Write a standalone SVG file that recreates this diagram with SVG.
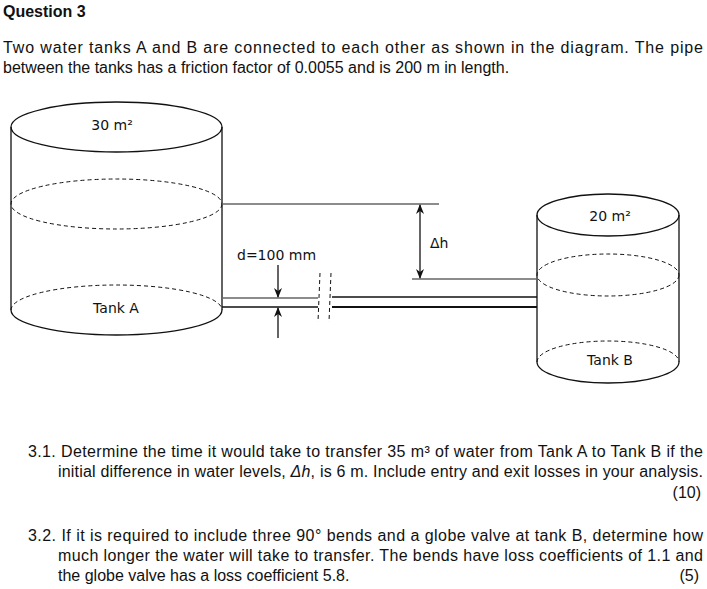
<svg xmlns="http://www.w3.org/2000/svg" width="707" height="589" viewBox="0 0 707 589">
<style>
.t{font-family:"Liberation Sans",Arial,sans-serif;font-size:16px;fill:#111}
.d{font-family:"DejaVu Sans",sans-serif;font-size:14px;fill:#111}
.s{fill:none;stroke:#111;stroke-width:1.3}
.ds{fill:none;stroke:#111;stroke-width:1;stroke-dasharray:4 3}
.g{stroke:#666;stroke-width:1.3;fill:none}
</style>
<defs><marker id="a" markerWidth="10" markerHeight="10" refX="9" refY="5" orient="auto" markerUnits="userSpaceOnUse"><path d="M0,1 L10,5 L0,9 L3,5z" fill="#111"/></marker></defs>
<rect width="707" height="589" fill="#fff"/>
<text class="t" x="3" y="17" font-weight="bold">Question 3</text>
<text class="t" x="3" y="53" textLength="700" lengthAdjust="spacing">Two water tanks A and B are connected to each other as shown in the diagram. The pipe</text>
<text class="t" x="3" y="73">between the tanks has a friction factor of 0.0055 and is 200 m in length.</text>
<g id="tankA">
<ellipse class="s" cx="116.5" cy="127" rx="105.5" ry="25"/>
<path class="s" d="M11,127 V310 A105.5,25 0 0 0 222,310 V127"/>
<ellipse class="ds" cx="116.5" cy="204" rx="105.5" ry="25"/>
<path class="ds" d="M11,310 A105.5,25 0 0 1 222,310"/>
<text class="d" x="112" y="130" text-anchor="middle">30 m²</text>
<text class="d" x="116" y="313" text-anchor="middle">Tank A</text>
</g>
<g id="tankB">
<ellipse class="s" cx="608" cy="215" rx="71" ry="21"/>
<path class="s" d="M537,215 V362 A71,21 0 0 0 679,362 V215"/>
<ellipse class="ds" cx="608" cy="275" rx="71" ry="21"/>
<path class="ds" d="M537,362 A71,21 0 0 1 679,362"/>
<text class="d" x="610" y="221" text-anchor="middle">20 m²</text>
<text class="d" x="610" y="365" text-anchor="middle">Tank B</text>
</g>
<g id="connectors">
<line class="g" x1="222" y1="204" x2="439" y2="204"/>
<line class="g" x1="412" y1="279" x2="537" y2="279"/>
<line class="s" x1="420" y1="240" x2="420" y2="205" marker-end="url(#a)"/>
<line class="s" x1="420" y1="240" x2="420" y2="278" marker-end="url(#a)"/>
<line class="g" x1="222" y1="298" x2="318" y2="298"/>
<line class="s" x1="222" y1="307" x2="318" y2="307"/>
<line class="s" x1="332" y1="297" x2="537" y2="297"/>
<line x1="332" y1="307" x2="537" y2="307" stroke="#111" stroke-width="2"/>
<line class="ds" x1="320" y1="273" x2="318" y2="322"/>
<line class="ds" x1="331" y1="273" x2="329" y2="322"/>
<line class="s" x1="278" y1="265" x2="278" y2="297" marker-end="url(#a)"/>
<line class="s" x1="278" y1="338" x2="278" y2="308" marker-end="url(#a)"/>
</g>
<text class="d" x="430" y="248">Δh</text>
<text class="d" x="237" y="260">d=100 mm</text>
<text class="t" x="28" y="457" textLength="675" lengthAdjust="spacing">3.1. Determine the time it would take to transfer 35 m³ of water from Tank A to Tank B if the</text>
<text class="t" x="58" y="477" textLength="645" lengthAdjust="spacing">initial difference in water levels, <tspan font-style="italic">Δh</tspan>, is 6 m. Include entry and exit losses in your analysis.</text>
<text class="t" x="701" y="498" text-anchor="end">(10)</text>
<text class="t" x="28" y="541" textLength="675" lengthAdjust="spacing">3.2. If it is required to include three 90° bends and a globe valve at tank B, determine how</text>
<text class="t" x="58" y="561" textLength="645" lengthAdjust="spacing">much longer the water will take to transfer. The bends have loss coefficients of 1.1 and</text>
<text class="t" x="58" y="581">the globe valve has a loss coefficient 5.8.</text>
<text class="t" x="699" y="581" text-anchor="end">(5)</text>
</svg>
